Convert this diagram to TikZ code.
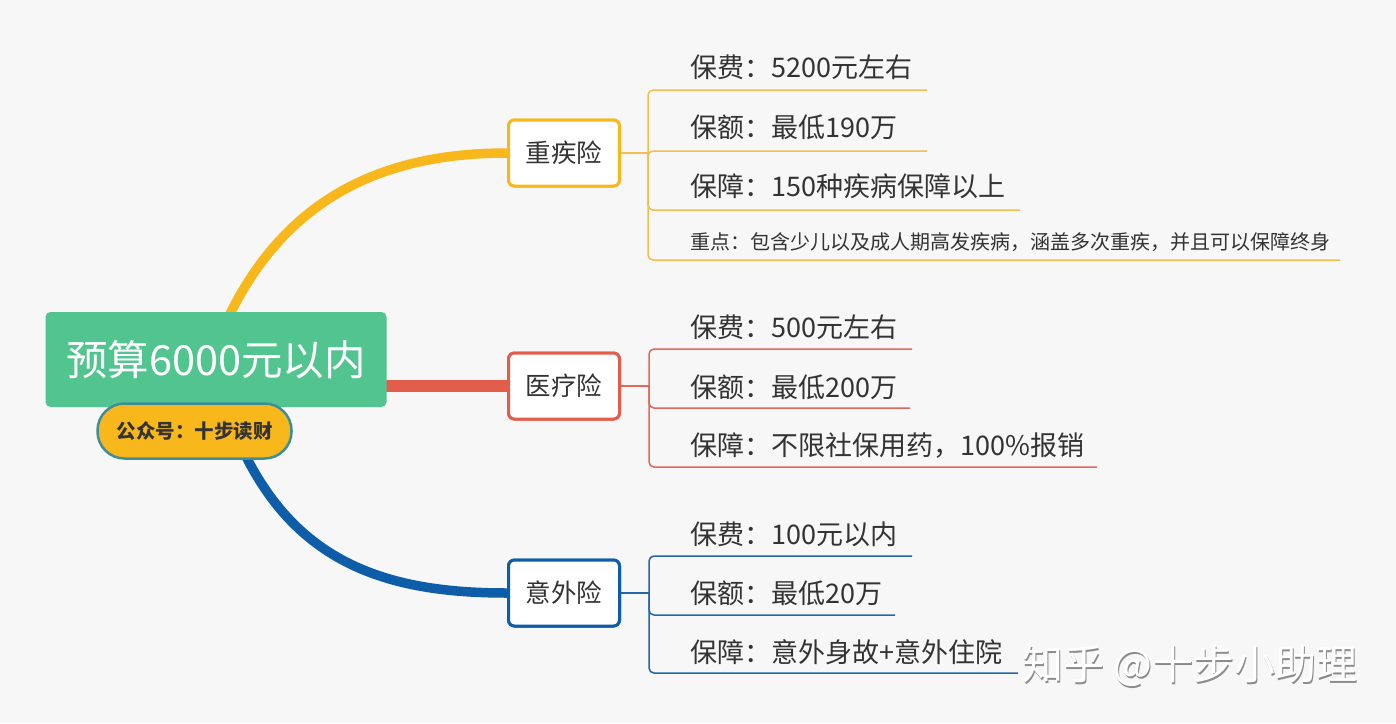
\documentclass[tikz,border=0pt]{standalone}
\usepackage{fontspec}
\setmainfont{Noto Sans CJK SC}
\definecolor{bg}{HTML}{F7F7F7}
\definecolor{cgreen}{HTML}{52C48F}
\definecolor{cyel}{HTML}{F8B81C}
\definecolor{cred}{HTML}{E35D4D}
\definecolor{cblue}{HTML}{0E5DA8}
\definecolor{lyel}{HTML}{F0C04E}
\definecolor{lred}{HTML}{E0675A}
\definecolor{lblue}{HTML}{2466A6}
\definecolor{txt}{HTML}{333333}
\definecolor{teal}{HTML}{3E8E9A}
\begin{document}
\begin{tikzpicture}[x=1pt,y=-1pt,
  branch/.style={draw=#1, line width=3pt, fill=white, rounded corners=6pt,
     minimum width=111pt, minimum height=66pt, inner sep=0pt, text=txt,
     font=\fontsize{25.5}{30}\selectfont},
  leaftext/.style={anchor=west, inner sep=0pt, text=txt, font=\fontsize{27}{32}\selectfont},
  smalltext/.style={anchor=west, inner sep=0pt, text=txt, font=\fontsize{20}{24}\selectfont},
  leafline/.style={draw=#1, line width=1.5pt, rounded corners=5pt},
  trunk/.style={draw=#1, line width=9.5pt, line cap=round}]
\useasboundingbox (0,0) rectangle (1396,723);
\fill[bg] (0,0) rectangle (1396,723);

% branch nodes
\node[branch=cyel] (zj) at (564,153) {重疾险};
\node[branch=cred] (yl) at (564,386) {医疗险};
\node[branch=cblue] (yw) at (564,593) {意外险};

% trunks
\coordinate (ys) at (228,318);
\coordinate (rs) at (300,386);
\coordinate (bs) at (232,425);
\draw[trunk=cyel] (ys) .. controls (285,200) and (380,153) .. (zj.west);
\draw[trunk=cred, line width=12pt, line cap=butt] (rs) -- (zj.west |- yl.west);
\draw[trunk=cblue] (bs) .. controls (285,560) and (380,593) .. (yw.west);

% central node
\node[fill=cgreen, rounded corners=5pt, minimum width=341pt, minimum height=95pt,
  inner sep=0pt, text=white, font=\fontsize{41.5}{48}\selectfont] (root) at (216,359.5) {预算6000元以内};
\node[fill=cyel, draw=teal, line width=2.5pt, rounded corners=27pt, minimum width=194pt,
  minimum height=55pt, inner sep=0pt, text=txt, font=\fontsize{19.5}{24}\selectfont\bfseries] (badge) at (194.5,431) {公众号：十步读财};
\node[branch=cyel] at (zj) {重疾险};
\node[branch=cred] at (yl) {医疗险};
\node[branch=cblue] at (yw) {意外险};

% yellow leaves
\coordinate (zjj) at (648,153);
\draw[leafline=lyel] (zj.east) -- (zjj);
\coordinate (z1) at (927,90);
\coordinate (z2) at (927,151);
\coordinate (z3) at (1020,210);
\coordinate (z4) at (1340,260);
\draw[leafline=lyel] (zjj) -- (zjj |- z1) -- (z1);
\draw[leafline=lyel] (zjj) -- (zjj |- z2) -- (z2);
\draw[leafline=lyel] (zjj) -- (zjj |- z3) -- (z3);
\draw[leafline=lyel] (zjj) -- (zjj |- z4) -- (z4);
\node[leaftext] (zt1) at (690,67) {保费：5200元左右};
\node[leaftext] (zt2) at (690,127) {保额：最低190万};
\node[leaftext] (zt3) at (690,186) {保障：150种疾病保障以上};
\node[smalltext] (zt4) at (690,242) {重点：包含少儿以及成人期高发疾病，涵盖多次重疾，并且可以保障终身};

% red leaves
\coordinate (ylj) at (649,386);
\draw[leafline=lred] (yl.east) -- (ylj);
\coordinate (r1) at (912,349);
\coordinate (r2) at (910,408);
\coordinate (r3) at (1097,467);
\draw[leafline=lred] (ylj) -- (ylj |- r1) -- (r1);
\draw[leafline=lred] (ylj) -- (ylj |- r2) -- (r2);
\draw[leafline=lred] (ylj) -- (ylj |- r3) -- (r3);
\node[leaftext] (rt1) at (690,327) {保费：500元左右};
\node[leaftext] (rt2) at (690,387) {保额：最低200万};
\node[leaftext] (rt3) at (690,446) {保障：不限社保用药，100\%报销};

% blue leaves
\coordinate (ywj) at (649,593);
\draw[leafline=lblue] (yw.east) -- (ywj);
\coordinate (b1) at (912,556);
\coordinate (b2) at (895,615);
\coordinate (b3) at (1018,673);
\draw[leafline=lblue] (ywj) -- (ywj |- b1) -- (b1);
\draw[leafline=lblue] (ywj) -- (ywj |- b2) -- (b2);
\draw[leafline=lblue] (ywj) -- (ywj |- b3) -- (b3);
\node[leaftext] (bt1) at (690,534) {保费：100元以内};
\node[leaftext] (bt2) at (690,593) {保额：最低20万};
\node[leaftext] (bt3) at (690,652) {保障：意外身故+意外住院};

% watermark
\node[anchor=west, inner sep=0pt, text=black!45, font=\fontsize{41}{46}\selectfont] at (1023.5,667.5) {知乎 @十步小助理};
\node[anchor=west, inner sep=0pt, text=white, font=\fontsize{41}{46}\selectfont] (wm) at (1022,666) {知乎 @十步小助理};
\end{tikzpicture}
\end{document}
